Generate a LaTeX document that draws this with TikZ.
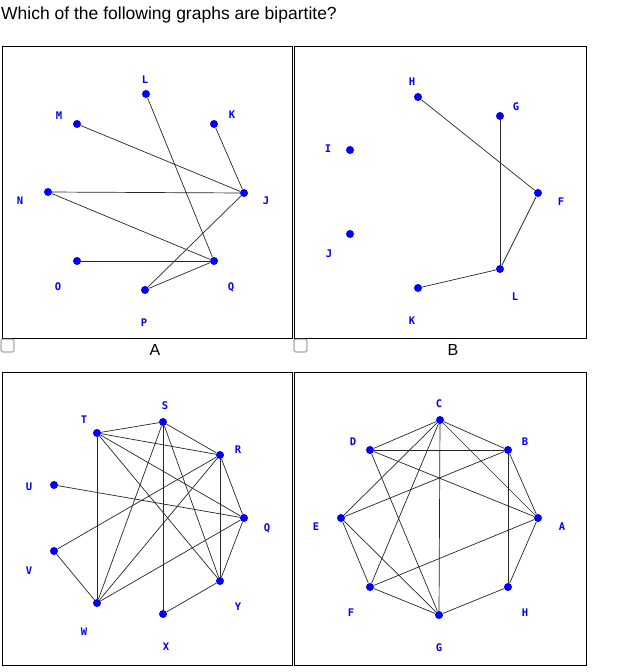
\documentclass[tikz,border=0pt]{standalone}
\usepackage{fontspec}
\setmainfont{Liberation Sans}
\newfontfamily\lblfont{DejaVu Sans Mono}
\definecolor{vb}{RGB}{0,0,255}
\begin{document}
\begin{tikzpicture}[x=1pt,y=-1pt,
  v/.style={circle,fill=vb,inner sep=0pt,minimum size=8pt},
  lb/.style={text=vb,font=\lblfont\bfseries\fontsize{10.5}{10.5}\selectfont,inner sep=0pt},
  ed/.style={draw=black!85,line width=0.7pt},
  panel/.style={draw=black,line width=0.9pt,fill=white},
  cb/.style={draw=black!60,rounded corners=1.5pt,line width=0.6pt,fill=white}]
\useasboundingbox (0,0) rectangle (616,672);
\fill[white] (0,0) rectangle (616,672);
\node[anchor=west,font=\fontsize{17.5}{19}\selectfont,inner sep=0pt] (title) at (1,15) {Which of the following graphs are bipartite?};
% panels
\draw[panel] (2,46) rectangle (292,338);
\draw[panel] (294,46) rectangle (586,338);
\draw[line width=1.8pt] (292.5,46) -- (292.5,338);
\draw[panel] (2,372) rectangle (292,665);
\draw[panel] (294,372) rectangle (586,665);
\draw[line width=1.8pt] (292.5,372) -- (292.5,665);
\draw[cb] (1,339) rectangle (14,352);
\draw[cb] (294,339) rectangle (307,352);
\node[font=\fontsize{16}{18}\selectfont] (la) at (155,350) {A};
\node[font=\fontsize{16}{18}\selectfont] (lbB) at (453,350) {B};
% graph A
\foreach \n/\x/\y/\lx/\ly in {L/146/94/145/80, M/77/124/59/116, K/214/124/232/115, N/48/192/20/201, J/244/193/266/201, O/77/261/58/287, Q/214/261/231/287, P/145/290/144/323}
  {\node[v] (a\n) at (\x,\y) {}; \node[lb] (al\n) at (\lx,\ly) {\n};}
\foreach \a/\b in {M/J, K/J, N/J, N/Q, L/Q, O/Q, P/Q, P/J}
  \draw[ed] (a\a) -- (a\b);
% graph B
\foreach \n/\x/\y/\lx/\ly in {H/418/97/412/82, G/500/116/516/107, I/350/150/328/149, F/538/193/561/202, J/350/234/329/254, L/500/269/515/297, K/418/288/412/321}
  {\node[v] (b\n) at (\x,\y) {}; \node[lb] (bl\n) at (\lx,\ly) {\n};}
\foreach \a/\b in {H/F, G/L, F/L, K/L}
  \draw[ed] (b\a) -- (b\b);
% graph C
\foreach \n/\x/\y/\lx/\ly in {T/97/433/84/420, S/163/422/165/406, R/220/455/238/450, U/54/485/29/487, Q/244/518/267/528, V/54/551/29/571, Y/220/581/238/607, W/97/603/84/632, X/163/614/166/647}
  {\node[v] (c\n) at (\x,\y) {}; \node[lb] (cl\n) at (\lx,\ly) {\n};}
\foreach \a/\b in {T/S, T/R, T/Q, T/Y, T/W, S/R, S/W, S/Y, S/X, R/Q, R/Y, R/V, R/W, U/Q, Q/Y, Q/W, V/W, Y/X}
  \draw[ed] (c\a) -- (c\b);
% graph D
\foreach \n/\x/\y/\lx/\ly in {C/440/420/439/404, D/370/450/353/442, B/508/450/525/442, E/341/518/316/527, A/538/518/562/527, F/370/587/351/613, H/508/587/525/613, G/439/615/439/648}
  {\node[v] (d\n) at (\x,\y) {}; \node[lb] (dl\n) at (\lx,\ly) {\n};}
\foreach \a/\b in {C/D, C/B, C/E, C/F, C/G, C/A, D/B, D/A, D/G, B/E, B/A, B/H, E/F, E/G, A/F, A/H, F/G, G/H}
  \draw[ed] (d\a) -- (d\b);
\end{tikzpicture}
\end{document}
